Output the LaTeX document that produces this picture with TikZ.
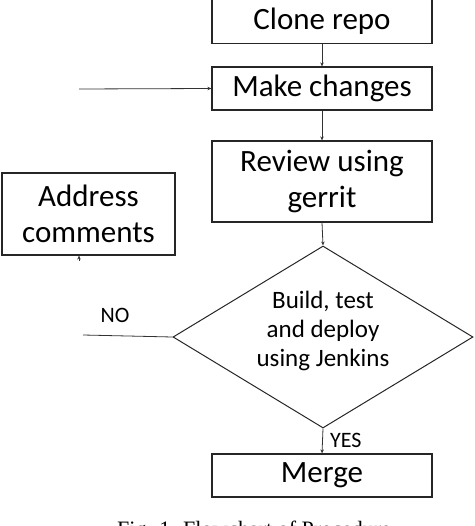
\documentclass[tikz,border=0pt]{standalone}
\usepackage{fontspec}
\newfontfamily\boxfont{Carlito}
\newfontfamily\capfont{Liberation Serif}
\usetikzlibrary{shapes.geometric,arrows.meta}
\begin{document}
\begin{tikzpicture}[x=1pt,y=1pt,
  box/.style={draw=black!85, line width=1.2pt, minimum width=220pt, minimum height=43pt,
    inner sep=0pt, align=center, font=\boxfont\fontsize{31}{36}\selectfont},
  dtext/.style={align=center, inner sep=0pt, font=\boxfont\fontsize{25}{29}\selectfont},
  lbl/.style={inner sep=0pt, font=\boxfont\fontsize{22}{26}\selectfont},
  conn/.style={draw=black!80, line width=0.8pt},
  arr/.style={conn, -{Stealth[length=4pt,width=3.5pt]}}]
\useasboundingbox (0,0) rectangle (474,-526);
\clip (0,0) rectangle (474,-526);
\node[box, minimum height=45pt] (clone) at (322,-21) {Clone repo};
\node[box] (make) at (322,-88.5) {Make changes};
\node[box, minimum height=81pt] (review) at (322,-181.5) {Review using\\gerrit};
\node[box, minimum width=173pt, minimum height=82pt] (address) at (88.5,-214) {Address\\comments};
\node[draw=black!85, line width=1pt, diamond, aspect=1.65, minimum width=300pt, minimum height=182pt, inner sep=0pt] (dec) at (323,-337) {};
\node[dtext] (dectext) at (323,-331) {Build, test\\and deploy\\using Jenkins};
\node[box] (merge) at (322,-475.5) {Merge};
\node[lbl] (no) at (115,-315) {NO};
\node[lbl, anchor=west] (yes) at (330,-440) {YES};
\node[inner sep=0pt, anchor=base, font=\capfont\fontsize{22}{26}\selectfont] (cap) at (254,-536) {Fig. 1. Flowchart of Procedure};
\coordinate (in) at (79,-89);
\coordinate (noend) at (83,-335);
\coordinate (addrin) at (79,-260.5);
\draw[arr] (clone.south) -- (make.north);
\draw[arr] (make.south) -- (review.north);
\draw[arr] (review.south) -- (dec.north);
\draw[arr] (dec.south) -- (merge.north);
\draw[arr] (in) -- (make.west);
\draw[conn] (noend) -- (dec.west);
\draw[arr] (addrin) -- (addrin |- address.south);
\end{tikzpicture}
\end{document}
